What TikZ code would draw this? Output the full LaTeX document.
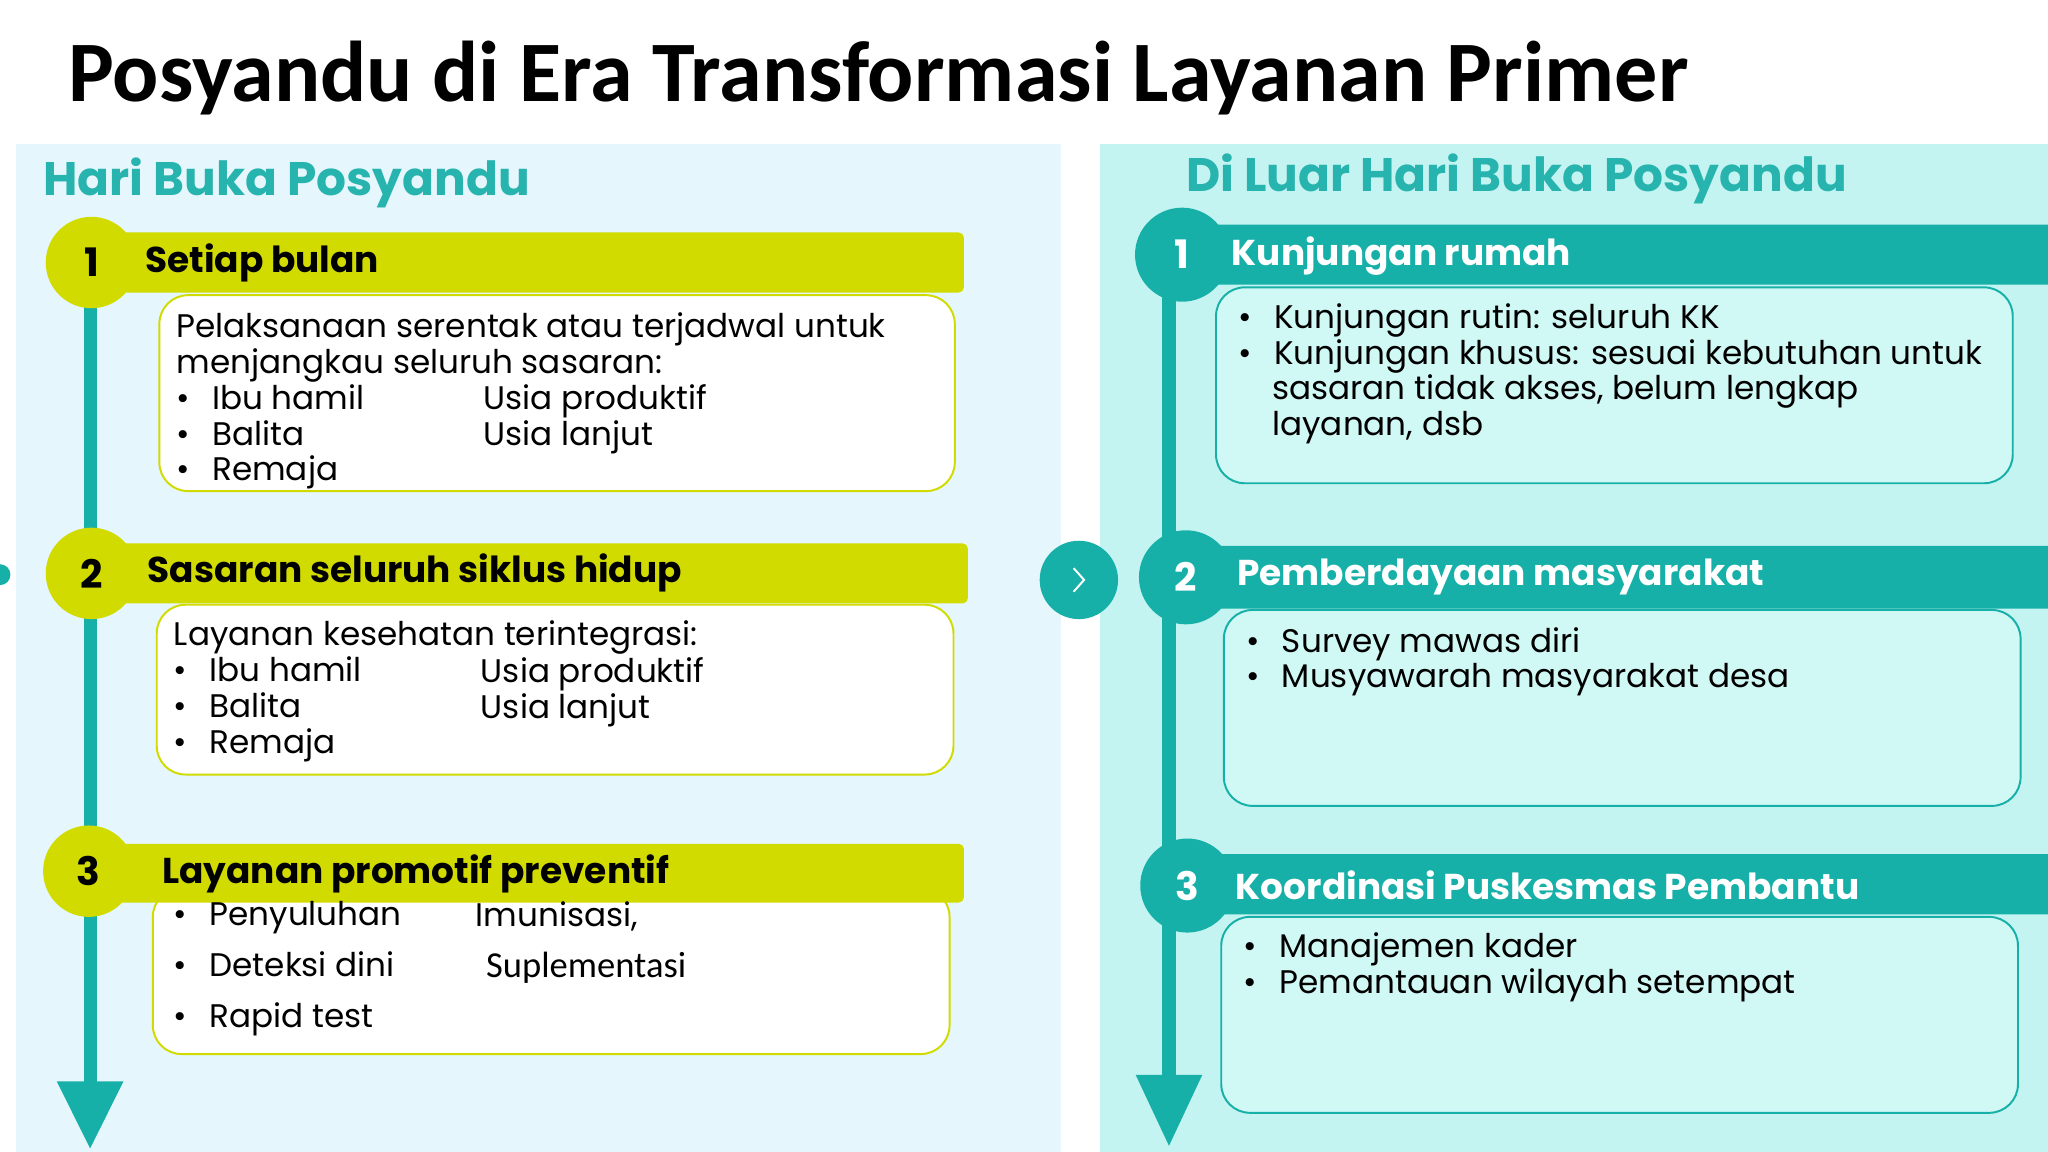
\documentclass[tikz,border=0pt]{standalone}
\usepackage{fontspec}
\setmainfont{Poppins}
\newfontfamily\titlefont{Carlito}
\usetikzlibrary{arrows.meta,calc}
\definecolor{teal1}{HTML}{17B0A8}
\definecolor{ylw}{HTML}{D2DB00}
\definecolor{lpanel}{HTML}{E5F7FC}
\definecolor{rpanel}{HTML}{C4F4F1}
\definecolor{rbox}{HTML}{D0F8F5}
\definecolor{hdr}{HTML}{27B3AE}
\tikzset{x=1pt,y=-1pt,
 body/.style={font=\fontsize{25}{27.5}\selectfont,anchor=north west,align=left,inner sep=0},
 bartitle/.style={font=\fontsize{27.5}{30}\selectfont\bfseries,anchor=west,inner sep=0},
 num/.style={circle,minimum size=70pt,inner sep=0,font=\fontsize{30}{30}\selectfont\bfseries},
 lbox/.style={draw=ylw,line width=1.5pt,rounded corners=22pt,fill=white},
 rboxs/.style={draw=teal1,line width=1.5pt,rounded corners=22pt,fill=rbox},
}
\newcommand{\bul}{\textbullet\hspace{17pt}}
\begin{document}
\begin{tikzpicture}
\useasboundingbox (0,0) rectangle (1568,882);
\fill[white] (0,0) rectangle (1568,882);
\node[anchor=base west,inner sep=0,font=\fontsize{66}{66}\selectfont\titlefont\bfseries] (title) at (52,78) {Posyandu di Era Transformasi Layanan Primer};
\fill[lpanel] (12,110) rectangle (812,882);
\fill[rpanel] (842,110) rectangle (1568,882);
\node[anchor=west,inner sep=0,text=hdr,font=\fontsize{36}{36}\selectfont\bfseries] (lh) at (33,140) {Hari Buka Posyandu};
\node[anchor=west,inner sep=0,text=hdr,font=\fontsize{36}{36}\selectfont\bfseries] (rh) at (908,137) {Di Luar Hari Buka Posyandu};
% timelines
\coordinate (ls) at (69,200); \coordinate (le) at (69,880);
\draw[teal1,line width=10pt,-{Triangle[width=48pt,length=52pt]}] (ls) -- (le);
\coordinate (rs) at (895,195); \coordinate (re) at (895,878);
\draw[teal1,line width=10pt,-{Triangle[width=48pt,length=55pt]}] (rs) -- (re);
% left bars
\fill[ylw,rounded corners=4pt] (70,178) rectangle (738,224);
\node[num,fill=ylw] (n1) at (70,201) {1};
\node[bartitle] (t1) at (111,201) {Setiap bulan};
\draw[lbox] (122,226) rectangle (731,376);
\node[body] (b1) at (135,239) {Pelaksanaan serentak atau terjadwal untuk\\menjangkau seluruh sasaran:\\\bul Ibu hamil\\\bul Balita\\\bul Remaja};
\node[body] (b1b) at (370,294) {Usia produktif\\Usia lanjut};
\fill[ylw,rounded corners=4pt] (70,416) rectangle (741,462);
\node[num,fill=ylw] (n2) at (70,439) {2};
\node[bartitle] (t2) at (113,439) {Sasaran seluruh siklus hidup};
\draw[lbox] (120,463) rectangle (730,593);
\node[body] (b2) at (133,475) {Layanan kesehatan terintegrasi:\\\bul Ibu hamil\\\bul Balita\\\bul Remaja};
\node[body] (b2b) at (368,503) {Usia produktif\\Usia lanjut};
\draw[lbox] (117,680) rectangle (727,807);
\fill[ylw,rounded corners=4pt] (70,646) rectangle (738,691);
\node[num,fill=ylw] (n3) at (68,667) {3};
\node[bartitle] (t3) at (124,669) {Layanan promotif preventif};
\node[body,font=\fontsize{25}{39}\selectfont] (b3) at (133,690) {\bul Penyuluhan\\\bul Deteksi dini\\\bul Rapid test};
\node[body] (b3b) at (364,690) {Imunisasi,};
\node[body,font=\fontsize{28}{28}\selectfont\titlefont] (b3c) at (372,729) {Suplementasi};
% middle chevron
\node[circle,fill=teal1,minimum size=60pt] (chev) at (826,444) {};
\draw[white,line width=1.5pt] ($(chev)+(-4,-9)$) -- ++(8,9) -- ++(-8,9);
\fill[teal1] (0,440) circle (8);
% right bars
\fill[teal1,rounded corners=4pt] (905,172) rectangle (1580,218);
\node[num,fill=teal1,text=white,minimum size=72pt] (m1) at (905,195) {1};
\node[bartitle,text=white] (u1) at (943,196) {Kunjungan rumah};
\draw[rboxs] (931,220) rectangle (1541,370);
\node[body] (c1) at (948,232) {\bul Kunjungan rutin: seluruh KK\\\bul Kunjungan khusus: sesuai kebutuhan untuk\\\hspace{26pt}sasaran tidak akses, belum lengkap\\\hspace{26pt}layanan, dsb};
\fill[teal1,rounded corners=4pt] (908,418) rectangle (1580,466);
\node[num,fill=teal1,text=white,minimum size=72pt] (m2) at (908,442) {2};
\node[bartitle,text=white] (u2) at (947,442) {Pemberdayaan masyarakat};
\draw[rboxs] (937,467) rectangle (1547,617);
\node[body] (c2) at (954,480) {\bul Survey mawas diri\\\bul Musyawarah masyarakat desa};
\fill[teal1,rounded corners=4pt] (909,654) rectangle (1580,700);
\node[num,fill=teal1,text=white,minimum size=72pt] (m3) at (909,678) {3};
\node[bartitle,text=white] (u3) at (946,678) {Koordinasi Puskesmas Pembantu};
\draw[rboxs] (935,702) rectangle (1545,852);
\node[body] (c3) at (952,714) {\bul Manajemen kader\\\bul Pemantauan wilayah setempat};
\end{tikzpicture}
\end{document}
